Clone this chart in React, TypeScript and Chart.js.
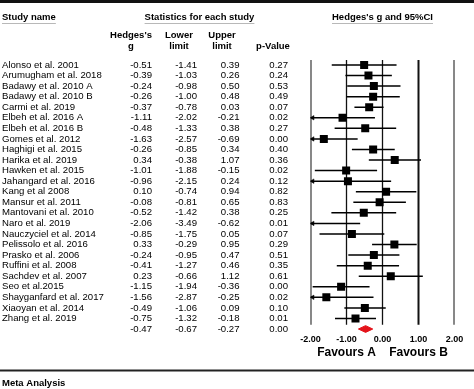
import React, { useEffect, useRef } from "react";
import { Chart, registerables } from "chart.js";

Chart.register(...registerables);

// ---------------- data ----------------
const studies = [
  "Alonso et al. 2001",
  "Arumugham et al. 2018",
  "Badawy et al. 2010 A",
  "Badawy et al. 2010 B",
  "Carmi et al. 2019",
  "Elbeh et al. 2016 A",
  "Elbeh et al. 2016 B",
  "Gomes et al. 2012",
  "Haghigi et al. 2015",
  "Harika et al. 2019",
  "Hawken et al. 2015",
  "Jahangard et al. 2016",
  "Kang et al 2008",
  "Mansur et al. 2011",
  "Mantovani et al. 2010",
  "Naro et al. 2019",
  "Nauczyciel et al. 2014",
  "Pelissolo et al. 2016",
  "Prasko et al. 2006",
  "Ruffini et al. 2008",
  "Sachdev et al. 2007",
  "Seo et al.2015",
  "Shayganfard et al. 2017",
  "Xiaoyan et al. 2014",
  "Zhang et al. 2019",
];
const hedgesG = [-0.51, -0.39, -0.24, -0.26, -0.37, -1.11, -0.48, -1.63, -0.26, 0.34, -1.01, -0.96, 0.1, -0.08, -0.52, -2.06, -0.85, 0.33, -0.24, -0.41, 0.23, -1.15, -1.56, -0.49, -0.75];
const lowerLimit = [-1.41, -1.03, -0.98, -1.0, -0.78, -2.02, -1.33, -2.57, -0.85, -0.38, -1.88, -2.15, -0.74, -0.81, -1.42, -3.49, -1.75, -0.29, -0.95, -1.27, -0.66, -1.94, -2.87, -1.06, -1.32];
const upperLimit = [0.39, 0.26, 0.5, 0.48, 0.03, -0.21, 0.38, -0.69, 0.34, 1.07, -0.15, 0.24, 0.94, 0.65, 0.38, -0.62, 0.05, 0.95, 0.47, 0.46, 1.12, -0.36, -0.25, 0.09, -0.18];
const pValues = [0.27, 0.24, 0.53, 0.49, 0.07, 0.02, 0.27, 0.0, 0.4, 0.36, 0.02, 0.12, 0.82, 0.83, 0.25, 0.01, 0.07, 0.29, 0.51, 0.35, 0.61, 0.0, 0.02, 0.1, 0.01];

const summaryG = -0.47;
const summaryLower = -0.67;
const summaryUpper = -0.27;
const summaryP = 0.0;

const xTicks = [-2, -1, 0, 1, 2];
const thickRefTicks = [-2, 1, 2];
const thinRefTicks = [-1, 0];
const X_MIN = -2;
const X_MAX = 2;

const headerTitles = ["Study name", "Statistics for each study", "Hedges's g and 95%CI"];
const columnHeads = [["Hedges's", "g"], ["Lower", "limit"], ["Upper", "limit"], ["", "p-Value"]];
const favourLabels = ["Favours A", "Favours B"];
const footerLabel = "Meta Analysis";

// ---------------- layout / style ----------------
const FONT = '"Liberation Sans", Arial, Helvetica, sans-serif';
const W = 474;
const H = 389;
const ROW_TOP = 0.53; // reference lines span (row units)
const ROW_BOTTOM = 25.6;
const summaryRow = studies.length + 1;
const DIAMOND_HALF = 0.32;

const fmt = (v: number) => v.toFixed(2);

const refLineData = (ticks: number[]) => {
  const d: any[] = [];
  ticks.forEach((t) => {
    d.push({ x: t, y: ROW_TOP });
    d.push({ x: t, y: ROW_BOTTOM });
    d.push({ x: null, y: null });
  });
  return d;
};

const ciData: any[] = [];
studies.forEach((_, i) => {
  ciData.push({ x: Math.max(lowerLimit[i], X_MIN), y: i + 1 });
  ciData.push({ x: Math.min(upperLimit[i], X_MAX), y: i + 1 });
  ciData.push({ x: null, y: null });
});

const squareData = studies
  .map((_, i) => ({ x: hedgesG[i], y: i + 1 }))
  .filter((p) => p.x >= X_MIN && p.x <= X_MAX);

const arrowData = studies
  .map((_, i) => ({ lo: lowerLimit[i], y: i + 1 }))
  .filter((p) => p.lo < X_MIN)
  .map((p) => ({ x: X_MIN + 0.06, y: p.y }));

const diamondTop = [
  { x: summaryLower, y: summaryRow },
  { x: summaryG, y: summaryRow - DIAMOND_HALF },
  { x: summaryUpper, y: summaryRow },
];
const diamondBottom = [
  { x: summaryLower, y: summaryRow },
  { x: summaryG, y: summaryRow + DIAMOND_HALF },
  { x: summaryUpper, y: summaryRow },
];

const tablePlugin = {
  id: "tableText",
  afterDraw(chart: any) {
    const ctx = chart.ctx as CanvasRenderingContext2D;
    const ys = chart.scales.y;
    const xs = chart.scales.x;
    ctx.save();
    // top bar
    ctx.fillStyle = "#111";
    ctx.fillRect(0, 0, W, 3);
    // bottom rule
    ctx.fillStyle = "#222";
    ctx.fillRect(0, 369.5, W, 2);

    ctx.textBaseline = "middle";
    ctx.fillStyle = "#000";
    const bold = `bold 9.5px ${FONT}`;
    const reg = `9.6px ${FONT}`;

    const underlined = (t: string, x: number, y: number, align: CanvasTextAlign) => {
      ctx.font = bold;
      ctx.textAlign = align;
      ctx.fillStyle = "#000";
      ctx.fillText(t, x, y);
      const w = ctx.measureText(t).width;
      const x0 = align === "center" ? x - w / 2 : x;
      ctx.fillStyle = "#b8b8b8";
      ctx.fillRect(x0, y + 6, w, 1);
      ctx.fillStyle = "#000";
    };
    underlined(headerTitles[0], 2, 17, "left");
    underlined(headerTitles[1], 199.5, 17, "center");
    underlined(headerTitles[2], xs.getPixelForValue(0), 17, "center");

    const colCenters = [131, 179, 222, 273];
    ctx.font = bold;
    ctx.textAlign = "center";
    columnHeads.forEach((h, c) => {
      if (h[0]) ctx.fillText(h[0], colCenters[c], 35);
      ctx.fillText(h[1], colCenters[c], 46.5);
    });

    const colRight = [152, 197, 239.5, 288];
    ctx.font = reg;
    studies.forEach((name, i) => {
      const y = ys.getPixelForValue(i + 1);
      ctx.textAlign = "left";
      ctx.fillText(name, 2, y);
      ctx.textAlign = "right";
      ctx.fillText(fmt(hedgesG[i]), colRight[0], y);
      ctx.fillText(fmt(lowerLimit[i]), colRight[1], y);
      ctx.fillText(fmt(upperLimit[i]), colRight[2], y);
      ctx.fillText(fmt(pValues[i]), colRight[3], y);
    });
    const sy = ys.getPixelForValue(summaryRow);
    ctx.textAlign = "right";
    ctx.fillText(fmt(summaryG), colRight[0], sy);
    ctx.fillText(fmt(summaryLower), colRight[1], sy);
    ctx.fillText(fmt(summaryUpper), colRight[2], sy);
    ctx.fillText(fmt(summaryP), colRight[3], sy);

    ctx.font = `bold 12px ${FONT}`;
    ctx.textAlign = "center";
    ctx.fillText(favourLabels[0], xs.getPixelForValue(-1), 353);
    ctx.fillText(favourLabels[1], xs.getPixelForValue(1), 353);

    ctx.font = bold;
    ctx.textAlign = "left";
    ctx.fillText(footerLabel, 2, 383);
    ctx.restore();
  },
};

export default function App() {
  const ref = useRef<HTMLCanvasElement | null>(null);
  useEffect(() => {
    if (!ref.current) return;
    const chart = new Chart(ref.current, {
      type: "line",
      data: {
        datasets: [
          {
            label: "ref thick",
            data: refLineData(thickRefTicks),
            borderColor: "#111",
            borderWidth: 2,
            pointRadius: 0,
            fill: false,
            order: 6,
          } as any,
          {
            label: "ref thin",
            data: refLineData(thinRefTicks),
            borderColor: "#111",
            borderWidth: 1.3,
            pointRadius: 0,
            fill: false,
            order: 5,
          },
          {
            label: "CI",
            data: ciData,
            borderColor: "#000",
            borderWidth: 1.5,
            pointRadius: 0,
            fill: false,
            order: 4,
          },
          {
            label: "arrows",
            data: arrowData,
            showLine: false,
            pointStyle: "triangle",
            rotation: 270,
            pointRadius: 2.6,
            backgroundColor: "#000",
            borderColor: "#000",
            borderWidth: 0.5,
            order: 3,
          },
          {
            label: "g",
            data: squareData,
            showLine: false,
            pointStyle: "rect",
            pointRadius: 5.66,
            backgroundColor: "#000",
            borderColor: "#000",
            borderWidth: 0,
            order: 0,
          },
          {
            label: "diamond top",
            data: diamondTop,
            borderColor: "#e4141b",
            backgroundColor: "#e4141b",
            borderWidth: 1,
            pointRadius: 0,
            fill: { value: summaryRow },
            order: 1,
          },
          {
            label: "diamond bottom",
            data: diamondBottom,
            borderColor: "#e4141b",
            backgroundColor: "#e4141b",
            borderWidth: 1,
            pointRadius: 0,
            fill: { value: summaryRow },
            order: 1,
          },
        ],
      },
      options: {
        responsive: false,
        devicePixelRatio: 1,
        animation: false,
        spanGaps: false,
        layout: { padding: { left: 310.5, right: 19.5, top: 59.7, bottom: 0 } },
        plugins: {
          legend: { display: false },
          tooltip: { enabled: false },
        },
        scales: {
          x: {
            type: "linear",
            min: X_MIN,
            max: X_MAX,
            afterBuildTicks: (s: any) => {
              s.ticks = xTicks.map((v) => ({ value: v }));
            },
            afterFit: (s: any) => {
              s.height = 54.7;
            },
            grid: { display: false, drawTicks: false },
            border: { display: false },
            ticks: {
              padding: 0,
              color: "#000",
              font: { family: FONT, size: 9, weight: "bold" },
              maxRotation: 0,
              callback: (v: any) => Number(v).toFixed(2),
            },
          },
          y: {
            type: "linear",
            reverse: true,
            min: 0.5,
            max: 26.5,
            display: false,
          },
        },
      } as any,
      plugins: [tablePlugin],
    });
    return () => chart.destroy();
  }, []);
  return (
    <div style={{ position: "fixed", left: 0, top: 0, width: W, height: H, background: "#fff" }}>
      <canvas ref={ref} width={W} height={H} style={{ display: "block", width: W, height: H }} />
    </div>
  );
}
